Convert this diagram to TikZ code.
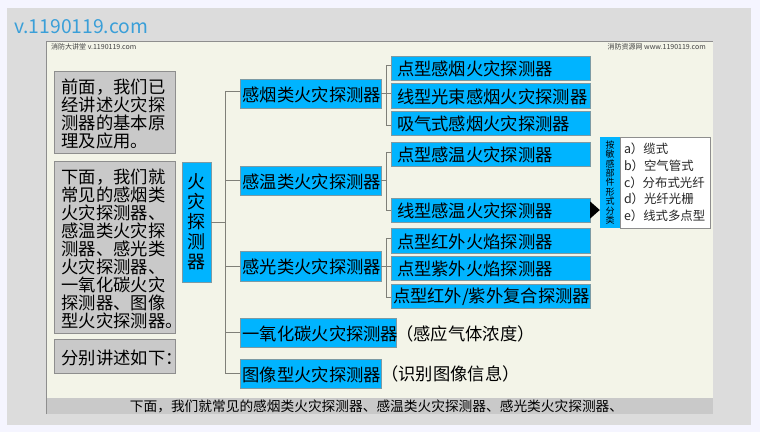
\documentclass[tikz,border=0pt]{standalone}
\usepackage{fontspec}
\setmainfont{Noto Sans CJK SC}
\setlength{\lineskiplimit}{-20pt}
\definecolor{skyfill}{HTML}{00B4FF}
\definecolor{skyline}{HTML}{7C9AA4}
\definecolor{notegray}{HTML}{C9C9C9}
\definecolor{noteline}{HTML}{8E8E8E}
\definecolor{paper}{HTML}{F3F4E8}
\definecolor{panel}{HTML}{DCDCDC}
\definecolor{brandblue}{HTML}{3A9FD8}
\definecolor{wirecol}{HTML}{7F7F78}
\tikzset{
    bluebox/.style={draw=skyline,fill=skyfill,text=black,inner sep=0pt,align=left},
    kind/.style={bluebox,minimum width=141pt,minimum height=29.5pt,text width=136pt,font=\fontsize{17.3}{18}\selectfont,execute at begin node={\rule{0pt}{17pt}}},
    leaf/.style={bluebox,minimum width=199pt,minimum height=24.5pt,text width=187pt,font=\fontsize{17.3}{18}\selectfont,execute at begin node={\rule{0pt}{17pt}}},
    note/.style={draw=noteline,fill=notegray,text=black,inner sep=0pt,minimum width=121pt,text width=106pt,align=left,font=\fontsize{17.3}{18}\selectfont,execute at begin node={\rule{0pt}{18pt}}},
    wire/.style={draw=wirecol,line width=0.7pt},
    plain/.style={text=black,inner sep=0pt,font=\fontsize{17.3}{18}\selectfont}
}
\begin{document}
\begin{tikzpicture}[x=1pt,y=-1pt]
    \useasboundingbox (0,0) rectangle (760,432);
    % background
    \fill[white!96!blue] (0,0) rectangle (760,432);
    \fill[panel] (7,8) rectangle (751,425);
    \fill[paper] (46,41) rectangle (713,414);
    \fill[notegray] (46,398) rectangle (713,414);
    \draw[noteline,line width=0.7pt] (46,414) -- (46,41) -- (713,41);
    \node[anchor=west,text=brandblue,inner sep=0pt,font=\fontsize{19.3}{20}\selectfont] (brand) at (14,27) {v.1190119.com};
    \node[anchor=west,text=black!75,inner sep=0pt,font=\fontsize{7}{8}\selectfont] (headl) at (51,47) {消防大讲堂 v.1190119.com};
    \node[anchor=east,text=black!75,inner sep=0pt,font=\fontsize{7}{8}\selectfont] (headr) at (706,47) {消防资源网 www.1190119.com};
    \node[text=black,inner sep=0pt,font=\fontsize{13.7}{14}\selectfont] (footer) at (376.5,406) {下面，我们就常见的感烟类火灾探测器、感温类火灾探测器、感光类火灾探测器、};

    % left notes
    \node[note,minimum height=82pt] (before) at (114.5,112) {前面，我们已\\经讲述火灾探\\测器的基本原\\理及应用。};
    \node[note,minimum height=172pt] (next) at (114.5,247) {下面，我们就\\常见的感烟类\\火灾探测器、\\感温类火灾探\\测器、感光类\\火灾探测器、\\一氧化碳火灾\\探测器、图像\\型火灾探测器。};
    \node[note,minimum height=34pt] (below) at (114.5,356) {分别讲述如下：};

    % root
    \node[bluebox,minimum width=29pt,minimum height=120pt,align=center,font=\fontsize{18}{20}\selectfont] (root) at (196.5,222) {火\\灾\\探\\测\\器};

    % second level
    \node[kind] (smoke) at (310.5,93.5) {感烟类火灾探测器};
    \node[kind] (heat) at (310.5,180.5) {感温类火灾探测器};
    \node[kind] (flame) at (310.5,266) {感光类火灾探测器};
    \node[kind,minimum width=156pt,text width=151pt] (gas) at (318,332.5) {一氧化碳火灾探测器};
    \node[kind] (image) at (310.5,373.5) {图像型火灾探测器};
    \node[plain,anchor=west] (gasnote) at (396,334) {（感应气体浓度）};
    \node[plain,anchor=west] (imagenote) at (381,374) {（识别图像信息）};

    % leaves
    \node[leaf] (smokea) at (490.5,68) {点型感烟火灾探测器};
    \node[leaf] (smokeb) at (490.5,95.5) {线型光束感烟火灾探测器};
    \node[leaf] (smokec) at (490.5,123) {吸气式感烟火灾探测器};
    \node[leaf] (heata) at (490.5,154) {点型感温火灾探测器};
    \node[leaf] (heatb) at (490.5,210) {线型感温火灾探测器};
    \node[leaf] (flamea) at (490.5,240.5) {点型红外火焰探测器};
    \node[leaf] (flameb) at (490.5,268) {点型紫外火焰探测器};
    \node[leaf,text width=195pt] (flamec) at (490.5,296) {点型红外/紫外复合探测器};

    % connectors
    \coordinate (trunk) at (225,222);
    \coordinate (forksmoke) at (386,93.5);
    \coordinate (forkheat) at (386,180.5);
    \coordinate (forkflame) at (386,266);
    \draw[wire] (root.east) -- (trunk);
    \draw[wire] (trunk) |- ([yshift=2pt]smoke.west);
    \draw[wire] (trunk) |- (heat.west);
    \draw[wire] (trunk) |- (flame.west);
    \draw[wire] (trunk) |- (gas.west);
    \draw[wire] (trunk) |- (image.west);
    \draw[wire] (smoke.east) -- (forksmoke);
    \draw[wire] (forksmoke) |- ([yshift=3pt]smokea.west);
    \draw[wire] (forksmoke) -- (smokeb.west |- forksmoke);
    \draw[wire] (forksmoke) |- ([yshift=-2pt]smokec.west);
    \draw[wire] (heat.east) -- (forkheat);
    \draw[wire] (forkheat) |- ([yshift=2pt]heata.west);
    \draw[wire] (forkheat) |- (heatb.west);
    \draw[wire] (flame.east) -- (forkflame);
    \draw[wire] (forkflame) |- ([yshift=2.5pt]flamea.west);
    \draw[wire] (forkflame) -- (flameb.west |- forkflame);
    \draw[wire] (forkflame) |- ([yshift=-1pt]flamec.west);

    % sensing element types
    \node[draw=noteline,fill=white,text=black!85,inner sep=0pt,minimum width=90pt,minimum height=91pt,text width=82pt,align=left,font=\fontsize{12.4}{16.7}\selectfont] (types) at (665,182.5) {a）缆式\\b）空气管式\\c）分布式光纤\\d）光纤光栅\\e）线式多点型};
    \node[bluebox,draw=none,minimum width=20pt,minimum height=91pt,align=center,font=\fontsize{9}{9.4}\selectfont] (typetag) at (610,182.5) {按\\敏\\感\\部\\件\\形\\式\\分\\类};
    \coordinate (tip) at (typetag.west |- heatb.east);
    \fill[black] ([yshift=-8.5pt]heatb.east) -- (tip) -- ([yshift=8.5pt]heatb.east) -- cycle;
\end{tikzpicture}
\end{document}
